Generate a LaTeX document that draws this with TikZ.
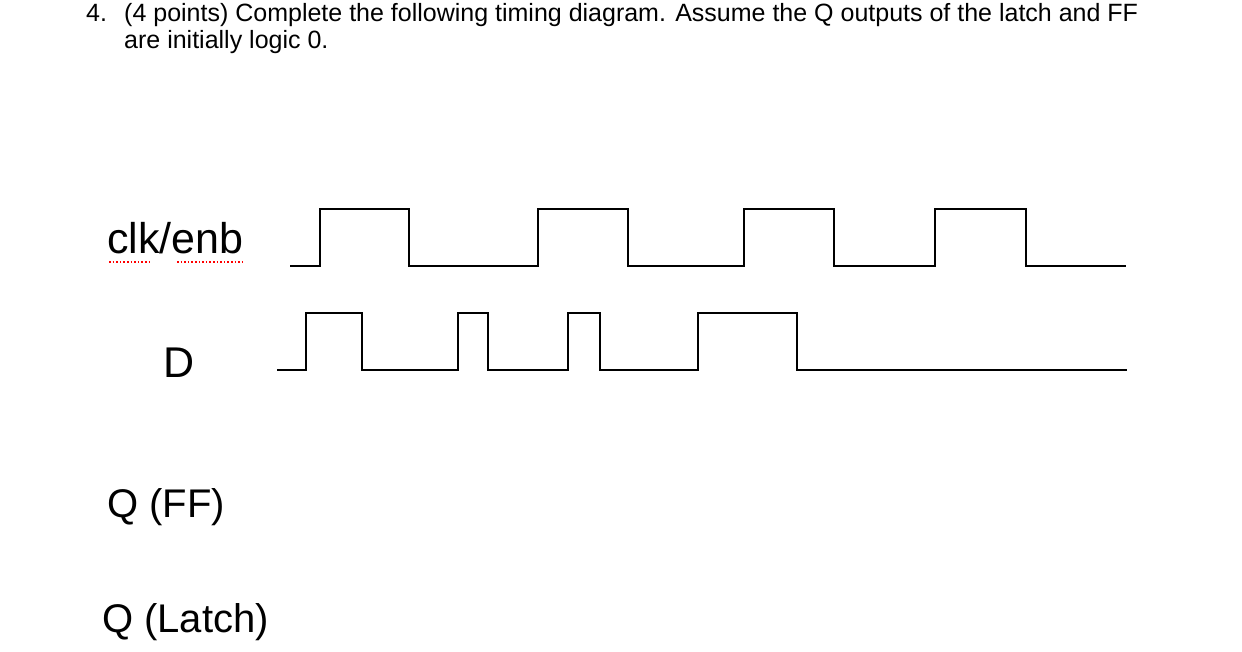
\documentclass[tikz,border=0pt]{standalone}
\usepackage{fontspec}
\setmainfont{Liberation Sans}
\usepackage{tikz}

\tikzset{
  title/.style={anchor=base west,inner sep=0pt,font=\fontsize{25}{27}\selectfont},
  sig/.style={anchor=base west,inner sep=0pt,font=\fontsize{43}{46}\selectfont},
  qsig/.style={sig,font=\fontsize{40}{44}\selectfont},
  wave/.style={line width=2.9pt,line join=miter},
  spell/.style={red,dotted,line width=1.6pt}
}

\begin{document}
\begin{tikzpicture}[x=1pt,y=-1pt]
            \useasboundingbox (0,0) rectangle (1242,652);
            % question text
            \node[title] at (86,22) (num) {4.};
            \node[title] at (124,22) (q1) {(4 points) Complete the following timing diagram. Assume the Q outputs of the latch and FF};
            \node[title] at (124,49) (q2) {are initially logic 0.};
            % signal names
            \node[sig] at (107,254) (clk) {clk/enb};
            \node[sig] at (163,377) (d) {D};
            \node[qsig] at (107,517) (qff) {Q (FF)};
            \node[qsig] at (102,632) (qlatch) {Q (Latch)};
            \draw[spell] (109,262) -- (152,262);
            \draw[spell] (177,262) -- (244,262);
            % clk/enb
            \draw[wave] (290,266) -| (320,209) -| (409,266) -| (538,209) -| (628,266)
                -| (744,209) -| (834,266) -| (935,209) -| (1026,266) -- (1126,266);
            % D
            \draw[wave] (277,370) -| (306,313) -| (362,370) -| (458,313) -| (488,370)
                -| (568,313) -| (600,370) -| (698,313) -| (797,370) -- (1127,370);
        \end{tikzpicture}
\end{document}
